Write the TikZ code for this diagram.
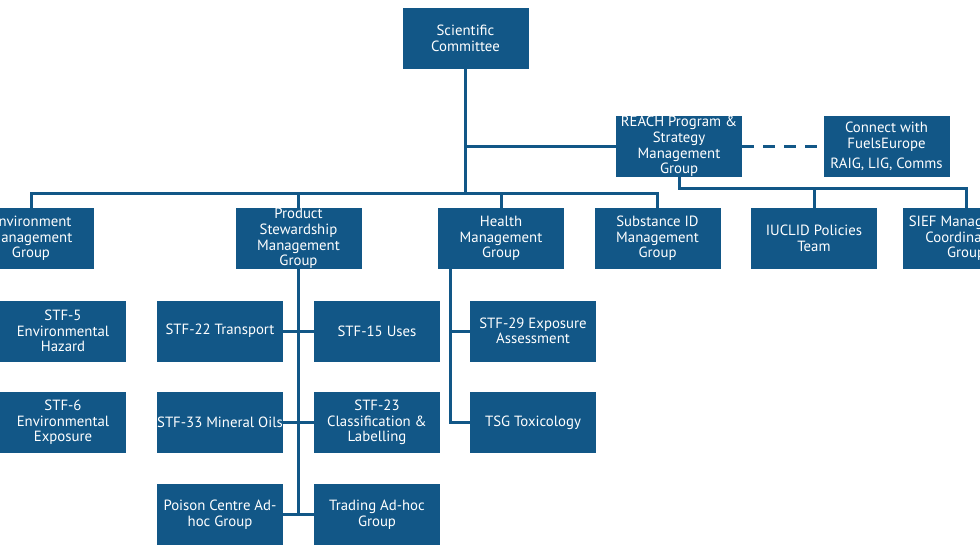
\documentclass[tikz,border=0pt]{standalone}
\usepackage{fontspec}
\setmainfont{PT Sans}
\definecolor{boxblue}{RGB}{18,87,135}
\begin{document}
\begin{tikzpicture}[x=1pt,y=-1pt,
  box/.style={fill=boxblue, text=white, minimum width=126pt, minimum height=61pt, inner sep=0pt, align=center, font=\fontsize{14.8}{15.6}\selectfont},
  link/.style={draw=boxblue, line width=3pt, line join=miter},
  dashlink/.style={draw=boxblue, line width=3pt, dash pattern=on 12pt off 9pt}]
\useasboundingbox (0,0) rectangle (980,551);
\clip (0,0) rectangle (980,551);
\node[box] (sc) at (465.5,38.5) {Scientific\\Committee};
\node[box] (reach) at (679,146.5) {REACH Program \&\\Strategy\\Management\\Group};
\node[box] (connect) at (886.5,146.5) {Connect with\\FuelsEurope\\[5pt]RAIG, LIG, Comms};
\node[box] (env) at (31,238.5) {Environment\\Management\\Group};
\node[box] (prod) at (298.5,238.5) {Product\\Stewardship\\Management\\Group};
\node[box] (health) at (501,238.5) {Health\\Management\\Group};
\node[box] (subst) at (657.5,238.5) {Substance ID\\Management\\Group};
\node[box] (iuclid) at (814,238.5) {IUCLID Policies\\Team};
\node[box] (sief) at (966,238.5) {SIEF Management\\Coordination\\Group};
\node[box] (stf5) at (63,331) {STF-5\\Environmental\\Hazard};
\node[box] (stf6) at (63,422.5) {STF-6\\Environmental\\Exposure};
\node[box] (stf22) at (220,331) {STF-22 Transport};
\node[box] (stf15) at (377,331) {STF-15 Uses};
\node[box] (stf33) at (220,422.5) {STF-33 Mineral Oils};
\node[box] (stf23) at (377,422.5) {STF-23\\Classification \&\\Labelling};
\node[box] (poison) at (220,514.5) {Poison Centre Ad-\\hoc Group};
\node[box] (trading) at (377,514.5) {Trading Ad-hoc\\Group};
\node[box] (stf29) at (533,331) {STF-29 Exposure\\Assessment};
\node[box] (tsg) at (533,422.5) {TSG Toxicology};
\coordinate (bus1) at (0,193);
\coordinate (bus2) at (0,188);
\coordinate (hx) at (450,269);
% main trunk
\draw[link] (sc.south) -- (sc.south |- bus1);
\draw[link] (sc.south |- reach.west) -- (reach.west);
\draw[link] (env.north) |- (subst.north |- bus1) -- (subst.north);
\draw[link] (prod.north) -- (prod.north |- bus1);
\draw[link] (health.north) -- (health.north |- bus1);
% reach branch
\draw[dashlink] (reach.east) -- (connect.west);
\draw[link] (reach.south) |- (sief.north |- bus2) -- (sief.north);
\draw[link] (iuclid.north) -- (iuclid.north |- bus2);
% product stewardship
\draw[link] (prod.south) -- (prod.south |- poison.east);
\draw[link] (stf22.east) -- (stf15.west);
\draw[link] (stf33.east) -- (stf23.west);
\draw[link] (poison.east) -- (trading.west);
% health
\draw[link] (hx) |- (tsg.west);
\draw[link] (hx |- stf29.west) -- (stf29.west);
\end{tikzpicture}
\end{document}
